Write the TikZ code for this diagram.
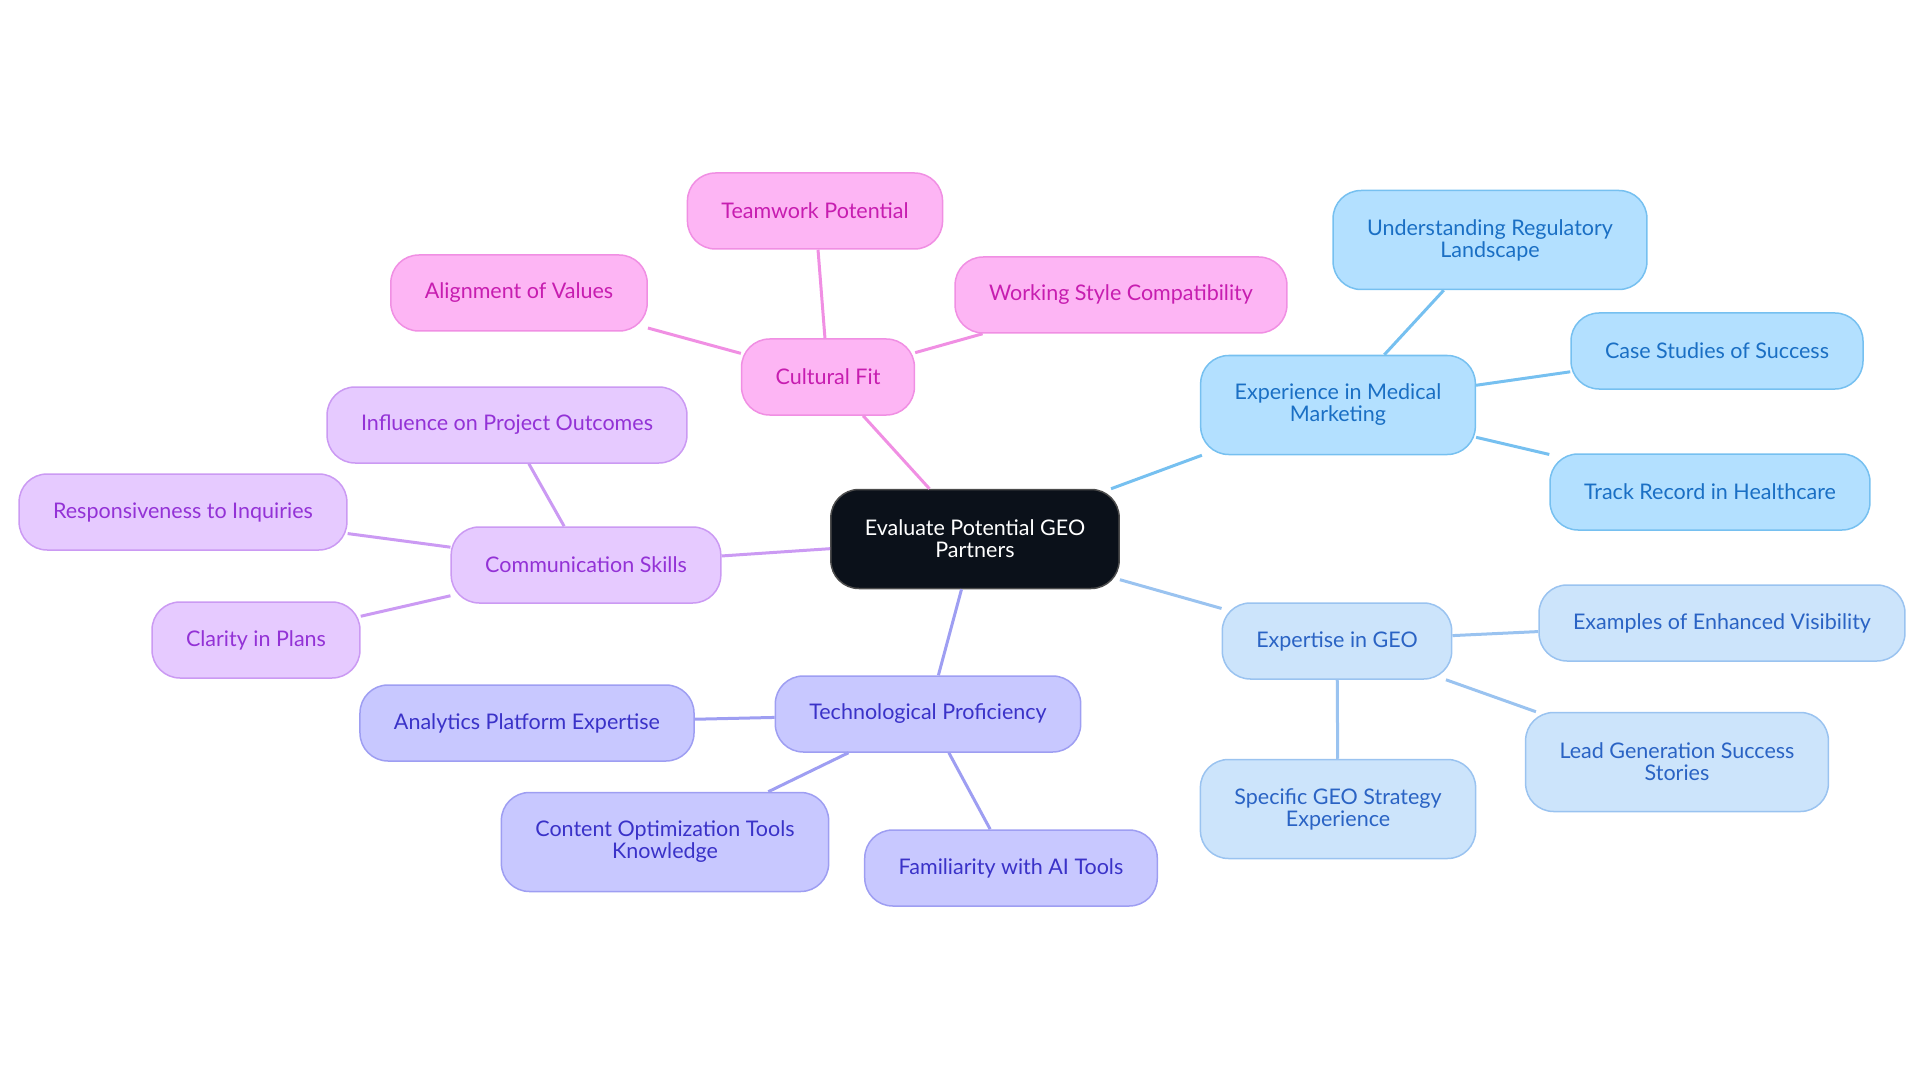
\documentclass[tikz,border=0pt]{standalone}
\usepackage{fontspec}
\setmainfont{Lato}
\definecolor{rootfill}{HTML}{0B111A}
\definecolor{cultfill}{HTML}{FDB5F4}
\definecolor{cultline}{HTML}{F08FE3}
\definecolor{culttext}{HTML}{C71DB0}
\definecolor{commfill}{HTML}{E6CAFF}
\definecolor{commline}{HTML}{CB9AF3}
\definecolor{commtext}{HTML}{9332D6}
\definecolor{techfill}{HTML}{C8C8FF}
\definecolor{techline}{HTML}{9E9EF2}
\definecolor{techtext}{HTML}{3A32C8}
\definecolor{medfill}{HTML}{B3E0FF}
\definecolor{medline}{HTML}{76C0F0}
\definecolor{medtext}{HTML}{1A6FC4}
\definecolor{geofill}{HTML}{CCE4FB}
\definecolor{geoline}{HTML}{9AC3F0}
\definecolor{geotext}{HTML}{2A63C4}

\begin{document}
\begin{tikzpicture}[x=1pt, y=-1pt,
    box/.style={draw, rounded corners=28pt, line width=1.5pt, align=center,
      inner xsep=34pt, inner ysep=0pt, minimum height=76pt,
      font=\fontsize{21.5}{22}\selectfont},
    tall/.style={minimum height=99pt},
    rootbox/.style={box, tall, fill=rootfill, draw=black!70, text=white},
    cultbox/.style={box, fill=cultfill, draw=cultline, text=culttext},
    commbox/.style={box, fill=commfill, draw=commline, text=commtext},
    techbox/.style={box, fill=techfill, draw=techline, text=techtext},
    medbox/.style={box, fill=medfill, draw=medline, text=medtext},
    geobox/.style={box, fill=geofill, draw=geoline, text=geotext},
    link/.style={line width=3pt}]
  \useasboundingbox (0,0) rectangle (1920,1083);

  % main topic
  \node[rootbox] (root) at (975,539) {Evaluate Potential GEO\\Partners};

  % branches
  \node[cultbox] (cult) at (828,377) {Cultural Fit};
  \node[commbox] (comm) at (586,565) {Communication Skills};
  \node[techbox] (tech) at (928,714) {Technological Proficiency};
  \node[medbox, tall] (med) at (1338,405) {Experience in Medical\\Marketing};
  \node[geobox] (geo) at (1337,641) {Expertise in GEO};

  % leaves
  \node[cultbox] (team) at (815,211) {Teamwork Potential};
  \node[cultbox] (values) at (519,293) {Alignment of Values};
  \node[cultbox] (style) at (1121,295) {Working Style Compatibility};

  \node[commbox] (influence) at (507,425) {Influence on Project Outcomes};
  \node[commbox] (inquiries) at (183,512) {Responsiveness to Inquiries};
  \node[commbox] (clarity) at (256,640) {Clarity in Plans};

  \node[techbox] (analytics) at (527,723) {Analytics Platform Expertise};
  \node[techbox, tall] (content) at (665,842) {Content Optimization Tools\\Knowledge};
  \node[techbox] (aitools) at (1011,868) {Familiarity with AI Tools};

  \node[medbox, tall] (regulatory) at (1490,240) {Understanding Regulatory\\Landscape};
  \node[medbox] (cases) at (1717,351) {Case Studies of Success};
  \node[medbox] (record) at (1710,492) {Track Record in Healthcare};

  \node[geobox] (visibility) at (1722,623) {Examples of Enhanced Visibility};
  \node[geobox, tall] (leads) at (1677,762) {Lead Generation Success\\Stories};
  \node[geobox, tall] (strategy) at (1338,809) {Specific GEO Strategy\\Experience};

  % connectors
  \draw[link, cultline] (root) -- (cult);
  \draw[link, commline] (root) -- (comm);
  \draw[link, techline] (root) -- (tech);
  \draw[link, medline] (root) -- (med);
  \draw[link, geoline] (root) -- (geo);
  \foreach \leaf in {team, values, style}
    \draw[link, cultline] (cult) -- (\leaf);
  \foreach \leaf in {influence, inquiries, clarity}
    \draw[link, commline] (comm) -- (\leaf);
  \foreach \leaf in {analytics, content, aitools}
    \draw[link, techline] (tech) -- (\leaf);
  \foreach \leaf in {regulatory, cases, record}
    \draw[link, medline] (med) -- (\leaf);
  \foreach \leaf in {visibility, leads, strategy}
    \draw[link, geoline] (geo) -- (\leaf);
\end{tikzpicture}
\end{document}
